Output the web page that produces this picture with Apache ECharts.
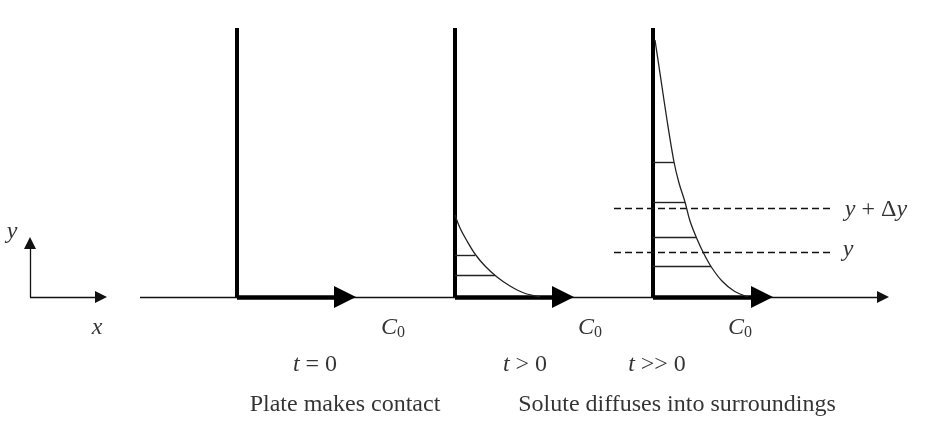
<!DOCTYPE html>
<html>
<head>
    <meta charset="utf-8">
    <title>Diffusion from a plate</title>
    <script src="https://cdn.jsdelivr.net/npm/echarts@6/dist/echarts.min.js"></script>
</head>
<body style="margin:0;background:#fff">
    <div id="main" style="width:938px;height:430px;"></div>
    <script type="text/javascript">
        // all coordinates are in picture units (x right, y down)
        var plates = [237, 455, 653];
        var plateTop = 28, baseY = 297;
        var arrowEnds = [345, 563, 762];
        var curveT1 = [[455, 215], [460, 228], [467, 241], [475, 254], [485, 266], [497, 277], [510, 286], [524, 293], [540, 297]];
        var curveT2 = [[655, 40], [661, 80], [667, 120], [674, 162], [679, 183], [685, 202], [690, 221], [697, 239], [704, 254], [712, 268], [722, 281], [734, 291], [748, 297]];
        var hatches = [
            [[455, 255], [475, 255]], [[455, 275], [495, 275]],
            [[653, 162], [674, 162]], [[653, 202], [685, 202]],
            [[653, 237], [696, 237]], [[653, 266], [711, 266]]
        ];
        var dashed = [[[614, 208], [830, 208]], [[614, 252], [830, 252]]];
        var cLabels = [[393, 328], [590, 328], [740, 328]];
        var tLabels = [['t = 0', 315, 365], ['t > 0', 525, 365], ['t >> 0', 657, 365]];
        var captions = [['Plate makes contact', 345, 405], ['Solute diffuses into surroundings', 677, 405]];
        var symLabels = [['y', 12, 232], ['x', 97, 328], ['y', 848, 250]];

        var chart = echarts.init(document.getElementById('main'));
        var serif = 'Liberation Serif';
        var ink = '#000';

        function textSeries(items, fmt, style) {
            return {
                type: 'scatter', symbolSize: 0, silent: true,
                data: items.map(function (d) { return { value: [d[1], d[2]], name: d[0] }; }),
                label: Object.assign({ show: true, position: 'inside', formatter: fmt, color: ink, fontFamily: serif, fontSize: 24 }, style)
            };
        }

        var series = [];
        series.push({
            type: 'lines', coordinateSystem: 'cartesian2d', silent: true,
            symbol: ['none', 'triangle'], symbolSize: [8, 12],
            lineStyle: { color: '#111', width: 1.3, opacity: 1 },
            data: [
                { coords: [[140, baseY], [883, baseY]] },
                { coords: [[30, 297], [30, 243]] },
                { coords: [[30, 297], [101, 297]] }
            ]
        });
        series.push({
            type: 'lines', coordinateSystem: 'cartesian2d', silent: true, symbol: 'none',
            lineStyle: { color: '#000', width: 4, opacity: 1 },
            data: plates.map(function (p) { return { coords: [[p, plateTop], [p, baseY]] }; })
        });
        series.push({
            type: 'lines', coordinateSystem: 'cartesian2d', silent: true,
            symbol: ['none', 'triangle'], symbolSize: [18, 22],
            lineStyle: { color: '#000', width: 4.5, opacity: 1 },
            data: plates.map(function (p, i) { return { coords: [[p, baseY], [arrowEnds[i], baseY]] }; })
        });
        series.push({
            type: 'lines', coordinateSystem: 'cartesian2d', silent: true, symbol: 'none',
            lineStyle: { color: '#222', width: 1.4, opacity: 1 },
            data: hatches.map(function (h) { return { coords: h }; })
        });
        series.push({
            type: 'lines', coordinateSystem: 'cartesian2d', silent: true, symbol: 'none',
            lineStyle: { color: '#111', width: 1.4, type: [7, 4], opacity: 1 },
            data: dashed.map(function (h) { return { coords: h }; })
        });
        [curveT1, curveT2].forEach(function (c) {
            series.push({
                type: 'line', data: c, smooth: 0.3, showSymbol: false, silent: true,
                lineStyle: { color: '#222', width: 1.3 }
            });
        });
        var rich = {
            i: { fontFamily: serif, fontStyle: 'italic', fontSize: 24, color: ink },
            n: { fontFamily: serif, fontSize: 24, color: ink },
            s: { fontFamily: serif, fontSize: 16, color: ink, padding: [10, 0, 0, 0] }
        };
        series.push({
            type: 'scatter', symbolSize: 0, silent: true, data: cLabels,
            label: { show: true, position: 'inside', formatter: '{i|C}{s|0}', rich: rich }
        });
        series.push(textSeries(tLabels, function (p) {
            return '{i|t}{n|' + p.name.slice(1) + '}';
        }, { rich: rich }));
        series.push(textSeries([['y + Δy', 876, 210]], '{i|y} {n|+ Δ}{i|y}', { rich: rich }));
        series.push(textSeries(captions, '{b}', {}));
        series.push(textSeries(symLabels, '{b}', { fontStyle: 'italic' }));

        chart.setOption({
            animation: false,
            grid: { left: 0, right: 0, top: 0, bottom: 0 },
            xAxis: { type: 'value', min: 0, max: 938, show: false },
            yAxis: { type: 'value', min: 0, max: 430, inverse: true, show: false },
            series: series
        });
    </script>
</body>
</html>
